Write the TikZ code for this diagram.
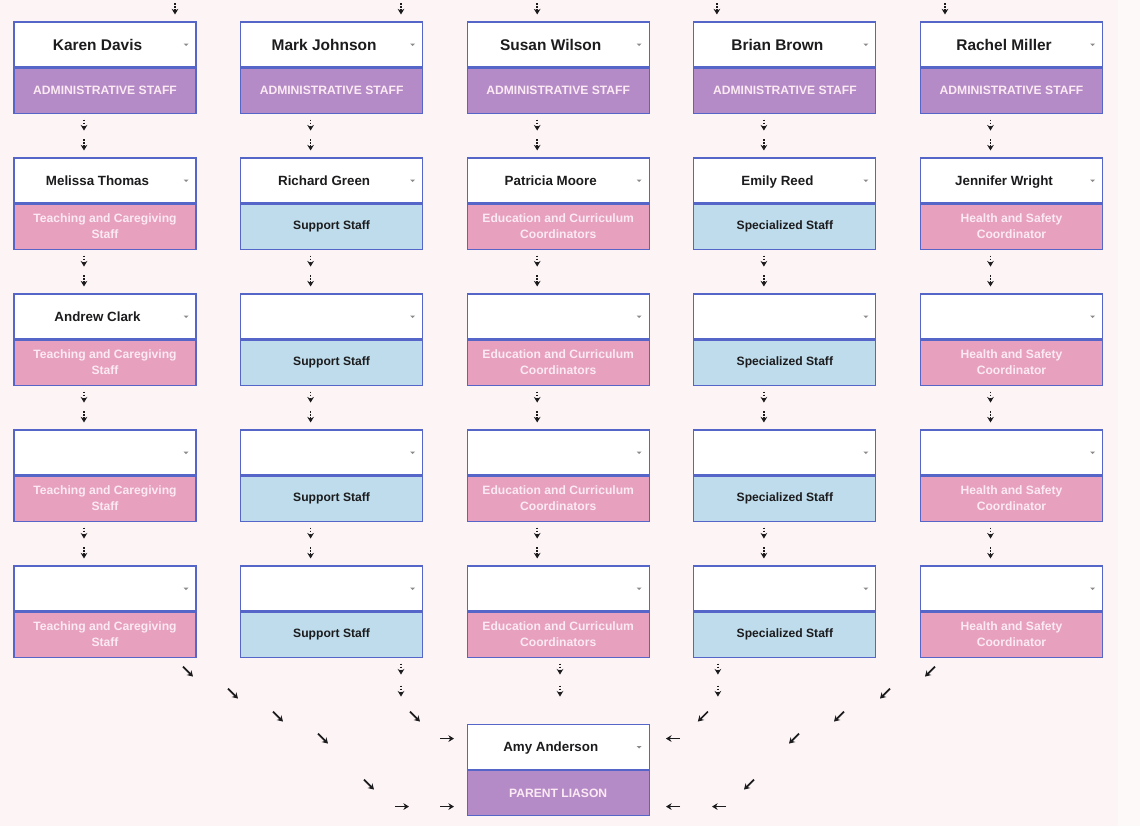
\documentclass[tikz,border=0pt]{standalone}
\usepackage{fontspec}
\setmainfont{Liberation Sans}
\usepackage{tikz}
\usetikzlibrary{calc,arrows.meta,positioning}
\usepackage{xcolor}
\definecolor{fond}{HTML}{FDF4F5}
\definecolor{fondclair}{HTML}{FEF9F9}
\definecolor{bord}{HTML}{5566C8}
\definecolor{mauve}{HTML}{B58BC7}
\definecolor{rose}{HTML}{E7A0BE}
\definecolor{bleu}{HTML}{BEDCEB}
\definecolor{clair}{HTML}{FBEAF3}
\definecolor{encre}{HTML}{1C1C1E}
\definecolor{gris}{HTML}{8A8A8A}
\tikzset{
    nom/.style={
        draw=bord,
        fill=white,
        line width=0.6pt,
        minimum width=3.64cm,
        minimum height=0.9cm,
        inner sep=0pt,
        text height=5.4pt,
        text depth=0pt,
        text=encre,
        font=\bfseries\fontsize{7.6}{9}\selectfont,
        execute at end node=\hspace{8.5pt}
    },
    chef/.style={
        text height=6.3pt,
        font=\bfseries\fontsize{8.8}{10}\selectfont
    },
    poste/.style={
        draw=bord,
        line width=0.6pt,
        minimum width=3.64cm,
        minimum height=0.9cm,
        inner sep=0pt,
        align=center,
        font=\bfseries\fontsize{6.9}{9}\selectfont
    },
    pointe/.style={
        -{Stealth[length=3.2pt,width=3.8pt]},
        line width=0.95pt,
        color=encre
    },
    bas/.pic={
        \draw[pointe,dash pattern=on 0.9pt off 0.8pt] (0,-6) -- (0,5);
    },
    sudest/.pic={
        \draw[pointe] (-5,-5) -- (5,5);
    },
    sudouest/.pic={
        \draw[pointe] (5,-5) -- (-5,5);
    },
    droite/.pic={
        \draw[pointe] (-7,0) -- (7,0);
    },
    gauche/.pic={
        \draw[pointe] (7,0) -- (-7,0);
    }
}

\begin{document}
\begin{tikzpicture}[x=0.02cm,y=-0.02cm]

    % Fond
    \useasboundingbox (0,0) rectangle (1140,826);
    \fill[fond] (0,0) rectangle (1140,826);
    \fill[fondclair] (1118,0) rectangle (1140,826);

    % Direction
    \foreach \c/\x/\qui in {
        1/105/Karen Davis,
        2/331.6/Mark Johnson,
        3/558.2/Susan Wilson,
        4/784.9/Brian Brown,
        5/1011.5/Rachel Miller}{
        \node[nom,chef] (n1\c) at (\x,44.5) {\qui};
        \node[poste,fill=mauve,text=clair,below=0pt of n1\c] (p1\c)
            {ADMINISTRATIVE STAFF};
        \fill[gris] ($(n1\c.east)+(-13,-1)$) -- ++(5,0) -- ++(-2.5,2.5) -- cycle;
    }

    % Equipes
    \foreach \c/\x/\qui/\aussi/\texte/\teinte/\encre in {
        1/105/Melissa Thomas/Andrew Clark/{Teaching and Caregiving\\Staff}/rose/clair,
        2/331.6/Richard Green//{Support Staff}/bleu/encre,
        3/558.2/Patricia Moore//{Education and Curriculum\\Coordinators}/rose/clair,
        4/784.9/Emily Reed//{Specialized Staff}/bleu/encre,
        5/1011.5/Jennifer Wright//{Health and Safety\\Coordinator}/rose/clair}{
        \foreach \r in {2,...,5}{
            \node[nom] (n\r\c) at (\x,{44.5+136*(\r-1)})
                {\ifnum\r=2 \qui\else\ifnum\r=3 \aussi\fi\fi};
            \node[poste,fill=\teinte,text=\encre,below=0pt of n\r\c] (p\r\c)
                {\texte};
            \fill[gris] ($(n\r\c.east)+(-13,-1)$) -- ++(5,0) -- ++(-2.5,2.5) -- cycle;
        }
    }

    % Amy Anderson
    \node[nom] (aa) at (558.2,747) {Amy Anderson};
    \node[poste,fill=mauve,text=clair,below=0pt of aa] (aa-p)
        {PARENT LIASON};
    \fill[gris] ($(aa.east)+(-13,-1)$) -- ++(5,0) -- ++(-2.5,2.5) -- cycle;

    % Fleches du haut
    \foreach \c/\dx in {1/70,2/69.4,3/-21,4/-68,5/-66.5}{
        \pic at ($(n1\c.north)+(\dx,-12)$) {bas};
    }

    % Fleches entre les lignes
    \foreach \c in {1,...,5}{
        \foreach \r [evaluate=\r as \s using int(\r+1)] in {1,...,4}{
            \pic at ($(p\r\c.south)+(-21,12)$) {bas};
            \pic at ($(n\s\c.north)+(-21,-12)$) {bas};
        }
    }

    % Vers Amy, colonne 1
    \foreach \dx/\dy in {83/14,128/36,173/59,218/81,264/127}{
        \pic at ($(p51.south)+(\dx,\dy)$) {sudest};
    }
    \foreach \dx in {297,342}{
        \pic at ($(p51.south)+(\dx,149)$) {droite};
    }

    % Vers Amy, colonne 2
    \foreach \dy in {12,34}{
        \pic at ($(p52.south)+(69.4,\dy)$) {bas};
    }
    \pic at ($(p52.south)+(83.4,59)$) {sudest};
    \pic at ($(p52.south)+(115.4,81)$) {droite};

    % Vers Amy, colonne 3
    \foreach \dy in {12,34}{
        \pic at ($(p53.south)+(1.8,\dy)$) {bas};
    }

    % Vers Amy, colonne 4
    \foreach \dy in {12,34}{
        \pic at ($(p54.south)+(-67,\dy)$) {bas};
    }
    \pic at ($(p54.south)+(-82,59)$) {sudouest};
    \pic at ($(p54.south)+(-112,81)$) {gauche};

    % Vers Amy, colonne 5
    \foreach \dx/\dy in {-81.5/14,-126.5/36,-172.5/59,-217.5/81,-262.5/127}{
        \pic at ($(p55.south)+(\dx,\dy)$) {sudouest};
    }
    \foreach \dx in {-292.5,-338.5}{
        \pic at ($(p55.south)+(\dx,149)$) {gauche};
    }

\end{tikzpicture}
\end{document}
